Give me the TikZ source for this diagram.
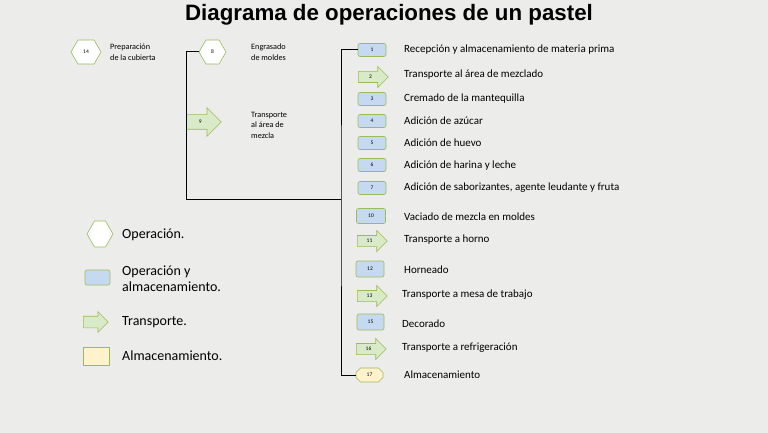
\documentclass[tikz,border=0pt]{standalone}
\usepackage{fontspec}
\setmainfont{Carlito}
\newfontfamily\titlefont{Liberation Sans}
\usetikzlibrary{shapes.misc,shapes.symbols,shapes.arrows}
\definecolor{bg}{RGB}{236,236,234}
\definecolor{gborder}{RGB}{155,187,89}
\definecolor{bluef}{RGB}{197,217,241}
\definecolor{greenf}{RGB}{216,234,200}
\definecolor{yellowf}{RGB}{255,242,204}
\tikzset{
  num/.style={font=\fontsize{5.5}{5.5}\selectfont},
  hexop/.style={signal, signal to=east and west, signal pointer angle=120, draw=gborder, fill=white, line width=0.6pt, inner sep=0pt, num},
  opbox/.style={rectangle, rounded corners=2pt, draw=gborder, fill=bluef, line width=0.6pt, minimum width=28pt, minimum height=13pt, inner sep=0pt, num},
  trans/.style={single arrow, draw=gborder, fill=greenf, line width=0.6pt, single arrow head extend=5pt, single arrow head indent=0pt, minimum height=30pt, inner xsep=2pt, inner ysep=3.5pt, text height=3.5pt, text depth=0pt, num},
  store/.style={chamfered rectangle, chamfered rectangle xsep=3pt, chamfered rectangle ysep=3pt, draw=gborder, fill=yellowf, line width=0.6pt, minimum width=27pt, minimum height=14pt, inner sep=0pt, num},
  lbl/.style={anchor=west, font=\fontsize{11}{12}\selectfont, inner sep=0pt},
  small/.style={anchor=west, font=\fontsize{8.2}{10.5}\selectfont, align=left, inner sep=0pt},
  leg/.style={anchor=west, font=\fontsize{14}{16}\selectfont, align=left, inner sep=0pt},
  conn/.style={line width=1pt, black}
}
\begin{document}
\begin{tikzpicture}[x=1pt,y=-1pt]
\useasboundingbox (0,0) rectangle (768,433);
\fill[bg] (0,0) rectangle (768,433);
\node[font=\titlefont\bfseries\fontsize{22.3}{24}\selectfont] (title) at (389,15) {Diagrama de operaciones de un pastel};

% left group
\node[hexop, minimum width=30pt, minimum height=24pt] (h14) at (86,52) {14};
\node[small] (t14) at (110,52) {Preparación\\de la cubierta};
\node[hexop, minimum width=27pt, minimum height=24pt] (h8) at (212.5,52) {8};
\node[small] (t8) at (251,52) {Engrasado\\de moldes};
\node[trans, anchor=tail, minimum height=35pt, inner ysep=5.25pt, single arrow head extend=7pt] (a9) at (186,122) {9\hspace{10pt}};
\node[small] (t9) at (251,125) {Transporte\\al área de\\mezcla};

% right column
\node[opbox] (b1) at (372,50) {1};
\node[trans, anchor=tail] (b2) at (358,77) {2\hspace{8pt}};
\node[opbox] (b3) at (372,99) {3};
\node[opbox] (b4) at (372,121) {4};
\node[opbox] (b5) at (372,143) {5};
\node[opbox] (b6) at (372,165) {6};
\node[opbox] (b7) at (372,188) {7};
\node[opbox, minimum width=29pt, minimum height=15pt] (b10) at (371,216) {10};
\node[trans, anchor=tail] (b11) at (357,241) {11\hspace{8pt}};
\node[opbox, minimum height=16pt] (b12) at (370,269) {12};
\node[trans, anchor=tail] (b13) at (357,296) {13\hspace{8pt}};
\node[opbox, minimum width=27pt, minimum height=16pt] (b15) at (370.5,322) {15};
\node[trans, anchor=tail] (b16) at (356,349) {16\hspace{8pt}};
\node[store] (b17) at (369.5,375) {17};

\node[lbl] (l1) at (404,50) {Recepción y almacenamiento de materia prima};
\node[lbl] (l2) at (404,75) {Transporte al área de mezclado};
\node[lbl] (l3) at (404,99) {Cremado de la mantequilla};
\node[lbl] (l4) at (404,121) {Adición de azúcar};
\node[lbl] (l5) at (404,143) {Adición de huevo};
\node[lbl] (l6) at (404,166) {Adición de harina y leche};
\node[lbl] (l7) at (404,188) {Adición de saborizantes, agente leudante y fruta};
\node[lbl] (l10) at (404,217) {Vaciado de mezcla en moldes};
\node[lbl] (l11) at (404,240) {Transporte a horno};
\node[lbl] (l12) at (404,270) {Horneado};
\node[lbl] (l13) at (402,295) {Transporte a mesa de trabajo};
\node[lbl] (l15) at (402,324) {Decorado};
\node[lbl] (l16) at (402,348) {Transporte a refrigeración};
\node[lbl] (l17) at (404,375) {Almacenamiento};

% legend
\node[hexop, minimum width=26pt, minimum height=26pt] (g1) at (100,234) {};
\node[leg] (gl1) at (122,235) {Operación.};
\node[opbox, minimum width=25pt, minimum height=15pt] (g2) at (97.5,277.5) {};
\node[leg] (gl2) at (122,279) {Operación y\\almacenamiento.};
\node[trans, anchor=tail, minimum height=25pt, inner ysep=4pt, text height=3pt, single arrow head extend=4.5pt] (g3) at (83,322) {};
\node[leg] (gl3) at (122,322) {Transporte.};
\node[store, minimum width=26pt, minimum height=18pt] (g4) at (96,356) {};
\node[leg] (gl4) at (122,356) {Almacenamiento.};

% connectors
\coordinate (lc) at (186,199);
\coordinate (jn) at (341,199);
\draw[conn] (h8.west) -| (lc) -- (jn);
\draw[conn] (b1.west) -| (jn) |- (b17.west);
\end{tikzpicture}
\end{document}
